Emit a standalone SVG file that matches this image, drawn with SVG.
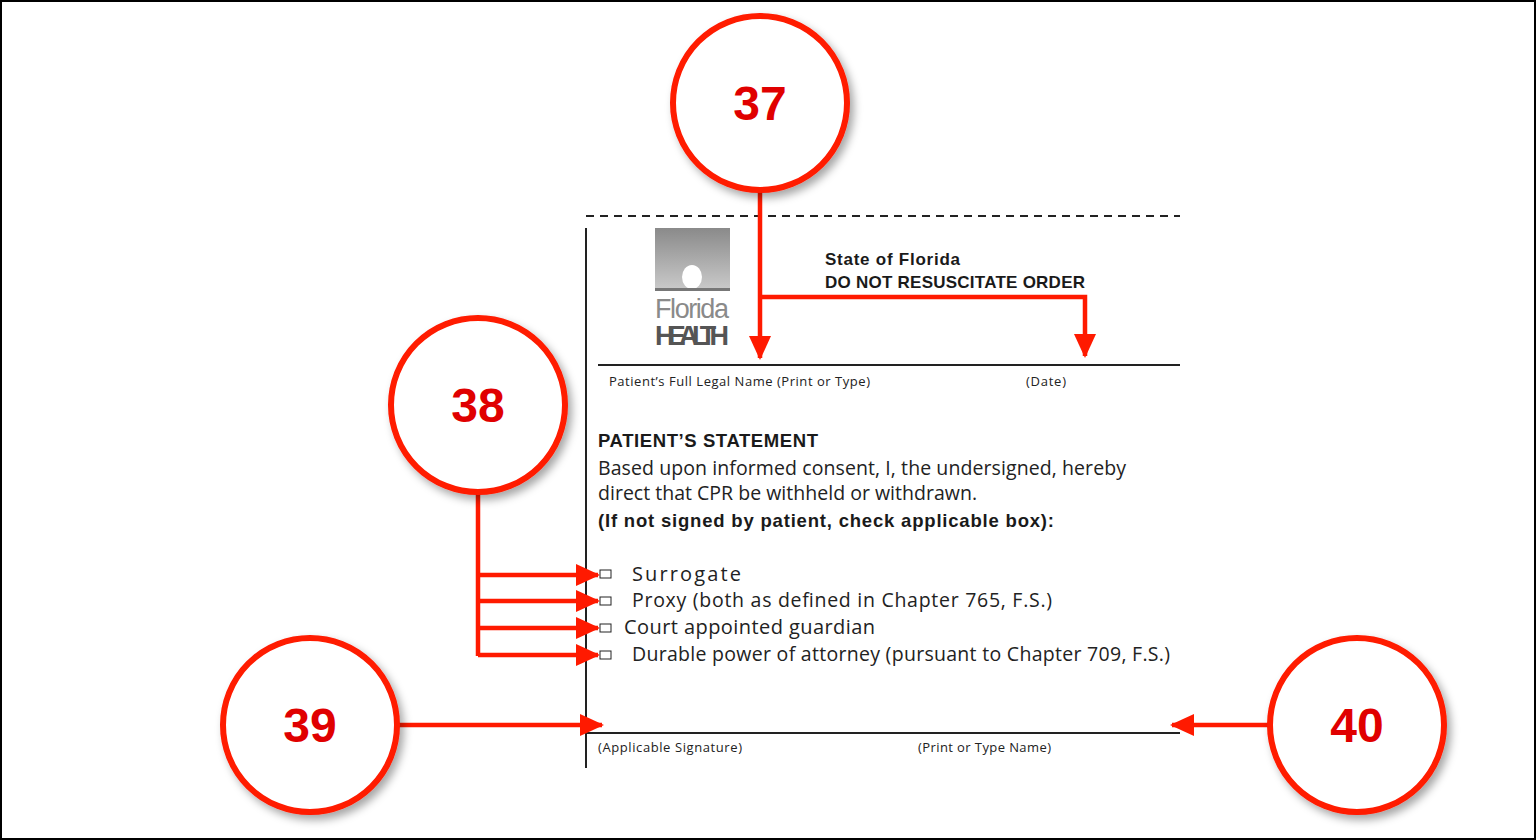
<svg xmlns="http://www.w3.org/2000/svg" width="1536" height="840" viewBox="0 0 1536 840">
<defs>
<marker id="ah" markerWidth="24" markerHeight="24" refX="22" refY="12" orient="auto" markerUnits="userSpaceOnUse"><path d="M0,1 L24,12 L0,23 z" fill="#ff1a00"/></marker>
<filter id="sh" x="-20%" y="-20%" width="150%" height="150%"><feDropShadow dx="4" dy="5" stdDeviation="4" flood-color="#000" flood-opacity="0.35"/></filter>
<linearGradient id="lg" x1="0" y1="0" x2="0" y2="1"><stop offset="0" stop-color="#8a8a8a"/><stop offset="1" stop-color="#c8c8c8"/></linearGradient>
</defs>
<style>
.cir{fill:#fff;stroke:#ff1a00;stroke-width:6;filter:url(#sh)}
.num{font-family:"Liberation Sans",Arial,sans-serif;font-weight:bold;font-size:48px;fill:#e00000;text-anchor:middle}
.con{fill:none;stroke:#ff1a00;stroke-width:4.5}
.ln{stroke:#222;stroke-width:2;fill:none}
.t{font-family:"Open Sans","Liberation Sans",sans-serif;fill:#222}
.b{font-family:"Liberation Sans",Arial,sans-serif;font-weight:bold;fill:#1a1a1a}
</style>
<rect x="1" y="1" width="1534" height="838" fill="#fff" stroke="#000" stroke-width="2"/>
<g id="form">
<line class="ln" x1="586" y1="216" x2="1180" y2="216" stroke-dasharray="8,6"/>
<line class="ln" x1="586" y1="228" x2="586" y2="768"/>
<line class="ln" x1="598" y1="365" x2="1180" y2="365"/>
<line class="ln" x1="586" y1="733" x2="1180" y2="733"/>
<g id="logo">
<rect x="655" y="228" width="75" height="60" fill="url(#lg)"/>
<ellipse cx="692" cy="277" rx="10" ry="12" fill="#fff"/>
<rect x="655" y="288" width="75" height="3" fill="#777"/>
<text x="692" y="318" font-family="Liberation Sans,Arial,sans-serif" font-size="27" fill="#8a8a8a" text-anchor="middle" textLength="74">Florida</text>
<text x="692" y="345" font-family="Liberation Sans,Arial,sans-serif" font-size="27" fill="#555" text-anchor="middle" textLength="74" font-weight="bold">HEALTH</text>
</g>
<text class="b" x="825" y="265" font-size="17" textLength="135">State of Florida</text>
<text class="b" x="825" y="288" font-size="17" textLength="260">DO NOT RESUSCITATE ORDER</text>
<text class="t" x="609" y="386" font-size="13" textLength="261">Patient’s Full Legal Name (Print or Type)</text>
<text class="t" x="1026" y="386" font-size="13" textLength="40">(Date)</text>
<text class="b" x="598" y="447" font-size="18.5" textLength="220">PATIENT’S STATEMENT</text>
<text class="t" x="598" y="475" font-size="19.5" textLength="528">Based upon informed consent, I, the undersigned, hereby</text>
<text class="t" x="598" y="500" font-size="19.5" textLength="379">direct that CPR be withheld or withdrawn.</text>
<text class="b" x="598" y="527" font-size="18.5" textLength="456">(If not signed by patient, check applicable box):</text>
<g fill="none" stroke="#222" stroke-width="1">
<rect x="600" y="570" width="11" height="8"/><rect x="600" y="597" width="11" height="8"/><rect x="600" y="624" width="11" height="8"/><rect x="600" y="651" width="11" height="8"/>
</g>
<text class="t" x="632" y="581" font-size="20" textLength="109">Surrogate</text>
<text class="t" x="632" y="607" font-size="19.5" textLength="420">Proxy (both as defined in Chapter 765, F.S.)</text>
<text class="t" x="624" y="634" font-size="20" textLength="251">Court appointed guardian</text>
<text class="t" x="632" y="661" font-size="19.5" textLength="538">Durable power of attorney (pursuant to Chapter 709, F.S.)</text>
<text class="t" x="598" y="752" font-size="13" textLength="144">(Applicable Signature)</text>
<text class="t" x="918" y="752" font-size="13" textLength="133">(Print or Type Name)</text>
</g>
<g id="connectors">
<path class="con" d="M760,192 V358" marker-end="url(#ah)"/>
<path class="con" d="M760,297 H1085 V356" marker-end="url(#ah)"/>
<path class="con" d="M478,493 V656"/>
<path class="con" d="M478,575 H598" marker-end="url(#ah)"/>
<path class="con" d="M478,601 H598" marker-end="url(#ah)"/>
<path class="con" d="M478,628 H598" marker-end="url(#ah)"/>
<path class="con" d="M478,655 H598" marker-end="url(#ah)"/>
<path class="con" d="M398,725 H602" marker-end="url(#ah)"/>
<path class="con" d="M1269,725 H1172" marker-end="url(#ah)"/>
</g>
<g id="n37"><circle class="cir" cx="760" cy="103" r="87"/><text class="num" x="760" y="120">37</text></g>
<g id="n38"><circle class="cir" cx="478" cy="405" r="87"/><text class="num" x="478" y="422">38</text></g>
<g id="n39"><circle class="cir" cx="310" cy="725" r="87"/><text class="num" x="310" y="742">39</text></g>
<g id="n40"><circle class="cir" cx="1357" cy="725" r="87"/><text class="num" x="1357" y="742">40</text></g>
</svg>
